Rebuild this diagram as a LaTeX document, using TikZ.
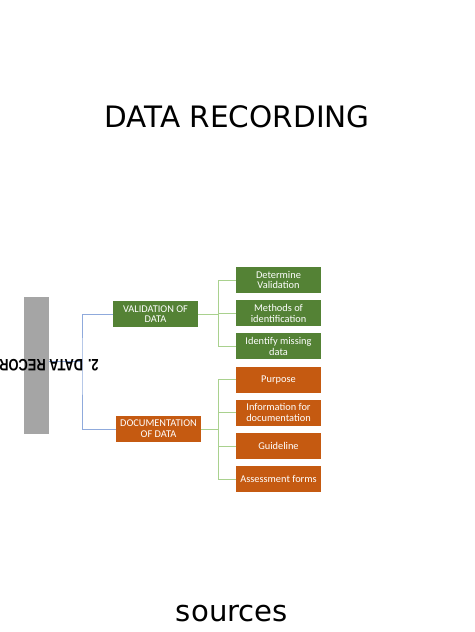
\documentclass[tikz,border=0pt]{standalone}
\usepackage{fontspec}
\usepackage{tikz}
\usetikzlibrary{positioning}
\newfontfamily\titlefont{DejaVu Sans}
\newfontfamily\boxfont{Carlito}
\newfontfamily\barfont{Liberation Sans}
\definecolor{valgreen}{HTML}{548235}
\definecolor{docorange}{HTML}{C55A11}
\definecolor{bargray}{HTML}{A5A5A5}
\definecolor{linkblue}{HTML}{8FAADC}
\definecolor{linkgreen}{HTML}{A9D18E}
\tikzset{
	leaf/.style={minimum width=1.7cm, minimum height=0.52cm, inner sep=0pt, align=center, text=white, font=\boxfont\fontsize{5.9}{6.1}\selectfont},
	valbox/.style={leaf, fill=valgreen},
	docbox/.style={leaf, fill=docorange},
	bluelink/.style={draw=linkblue, line width=0.5pt},
	greenlink/.style={draw=linkgreen, line width=0.5pt},
}

\begin{document}
\begin{tikzpicture}[x=0.02cm, y=-0.02cm]
	\useasboundingbox (0,0) rectangle (474,632);
	\clip (0,0) rectangle (474,632);

	\node[font=\titlefont\fontsize{16.8}{18}\selectfont] (title) at (237,117) {DATA RECORDING};
	\node[font=\titlefont\fontsize{16.6}{18}\selectfont] (src) at (232,614) {sources};

	\node[fill=bargray, minimum width=0.5cm, minimum height=2.74cm, inner sep=0pt] (bar) at (36.5,365.5) {};

	\node[valbox] (v0) at (155.5,314) {VALIDATION OF\\DATA};
	\node[docbox] (d0) at (158.5,429) {DOCUMENTATION\\OF DATA};

	\node[valbox] (v1) at (278.5,280) {Determine\\Validation};
	\node[valbox, below=0.13cm of v1] (v2) {Methods of\\identification};
	\node[valbox, below=0.13cm of v2] (v3) {Identify missing\\data};
	\node[docbox, below=0.13cm of v3] (d1) {Purpose};
	\node[docbox, below=0.13cm of d1] (d2) {Information for\\documentation};
	\node[docbox, below=0.13cm of d2] (d3) {Guideline};
	\node[docbox, below=0.13cm of d3] (d4) {Assessment forms};

	\coordinate (bj) at (82,361);
	\coordinate (vj) at (218,314);
	\coordinate (dj) at (218,429);

	\draw[bluelink] (bar.east |- bj) -- (bj);
	\draw[bluelink] (v0.west) -| (bj) |- (d0.west);

	\draw[greenlink] (v0.east) -- (vj);
	\foreach \n in {v1,v2,v3}
		\draw[greenlink] (\n.west) -| (vj);
	\draw[greenlink] (d0.east) -- (dj);
	\foreach \n in {d1,d2,d3,d4}
		\draw[greenlink] (\n.west) -| (dj);

	\node[rotate=180, xscale=0.78, anchor=west, inner sep=0pt, font=\barfont\bfseries\fontsize{9.4}{10}\selectfont] (bartext) at (99,365) {2. DATA RECORDING};
\end{tikzpicture}
\end{document}
